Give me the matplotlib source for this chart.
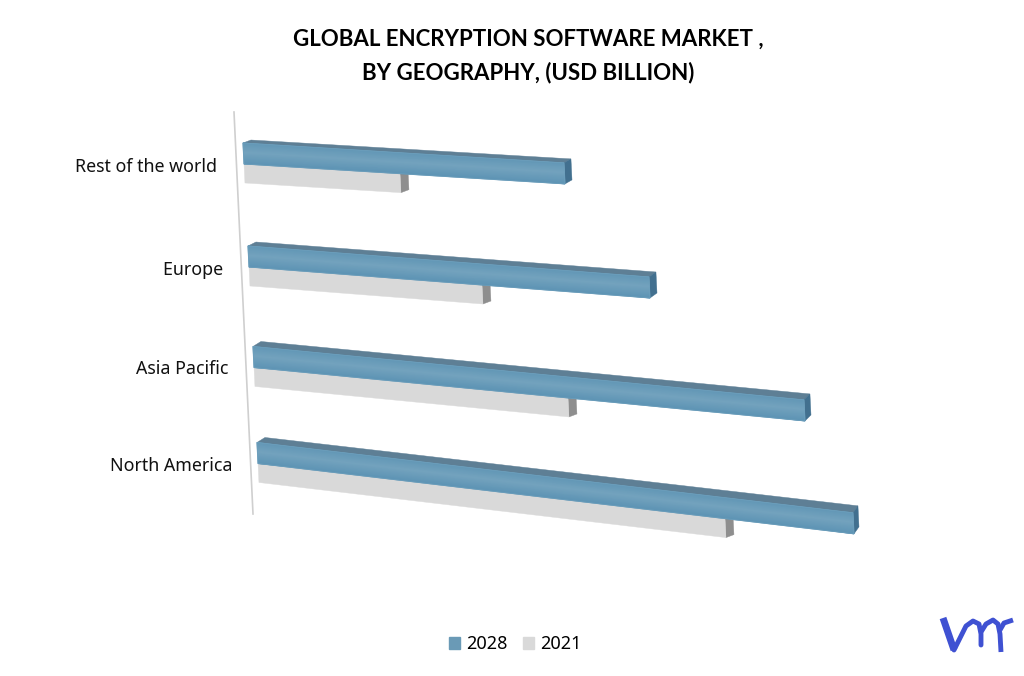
import numpy as np
import matplotlib
matplotlib.use("Agg")
import matplotlib.pyplot as plt
import matplotlib.transforms as mtrans
from matplotlib.colors import LinearSegmentedColormap
from matplotlib.patches import Patch

categories = ["North America", "Asia Pacific", "Europe ", "Rest of the world"]
values_2028 = [5.96, 5.51, 4.01, 3.21]
values_2021 = [4.67, 3.14, 2.33, 1.56]
series_names = ["2028", "2021"]
title_lines = "GLOBAL ENCRYPTION SOFTWARE MARKET ,\nBY GEOGRAPHY, (USD BILLION)"

# where each row sits in the picture, the chart is a fake 3d with perspective
row_left = np.array([258.0, 254.0, 249.0, 244.0])
row_top = np.array([463.5, 367.5, 267.0, 164.0])
row_slope = np.array([0.118, 0.097, 0.0773, 0.062])
depth_left = [-5, -5, -4, -3]
depth_right = [-7, -6, -5, -4]
depth_dx = [5, 6, 7, 7]
label_right = [232, 228, 228, 217]
label_y = [466, 369, 270, 167]
px_per_value = 100.0
px_per_row = 100.0
h_blue, h_gray = 0.21, 0.19


def project(v, y):
    v = np.asarray(v, dtype=float)
    y = np.asarray(y, dtype=float)
    row = np.clip(np.round(y).astype(int), 0, 3)
    off = (y - row) * px_per_row
    dx = v * px_per_value
    px = row_left[row] + dx - 0.05 * off
    py = row_top[row] + row_slope[row] * dx - off
    return px, py


class Perspective(mtrans.Transform):
    input_dims = 2
    output_dims = 2
    is_separable = False
    has_inverse = False

    def transform_non_affine(self, values):
        px, py = project(values[:, 0], values[:, 1])
        return np.column_stack([px, py])


def face(ax, pts, color):
    xs = [p[0] for p in pts]
    ys = [p[1] for p in pts]
    ax.fill(xs, ys, color=color, lw=0.3, zorder=3)


def top_and_side(ax, v, y0, y1, top_col, side_col, ddx, ddy, ddy_left):
    (xa, ya), (xb, yb) = project(0, y1), project(v, y1)
    xc, yc = project(v, y0)
    face(ax, [(xa, ya), (xb, yb), (xb + ddx, yb + ddy), (xa + 8, ya + ddy_left)], top_col)
    face(ax, [(xb, yb), (xc, yc), (xc + ddx, yc + ddy), (xb + ddx, yb + ddy)], side_col)


fig = plt.figure(figsize=(10.24, 6.76), dpi=100)
ax = fig.add_axes([0, 0, 1, 1])
ax.set_xlim(0, 1024)
ax.set_ylim(676, 0)
ax.autoscale(False)
ax.axis("off")

skew = Perspective() + ax.transData

ax.plot([234, 253], [112, 514], color="#cfcfcf", lw=1.2, zorder=1)

blue_map = LinearSegmentedColormap.from_list("b", ["#5c93b4", "#74a3be", "#6297b6"])
rows = np.arange(len(categories))

for r in rows:
    v1 = values_2021[r]
    top_and_side(ax, v1, r - h_gray, r, "#c4c4c4", "#8e8e8e", 8, -3, -3)
    b = ax.barh(r - h_gray / 2, v1, height=h_gray, color="#d9d9d9", lw=0.3, edgecolor="#dcdcdc", zorder=4)
    b[0].set_transform(skew)

    v2 = values_2028[r]
    top_and_side(ax, v2, r, r + h_blue, "#5e7f95", "#42708f", depth_dx[r], depth_right[r], depth_left[r])
    ys = np.array([0, 0.55, 1]) * h_blue + r
    mesh = ax.pcolormesh([0, v2], ys, np.array([[0, 0], [0.5, 0.5], [1, 1]]), cmap=blue_map,
                         shading="gouraud", transform=skew, zorder=5)
    b = ax.barh(r + h_blue / 2, v2, height=h_blue, facecolor="none", edgecolor="#6d9fbc", lw=0.5, zorder=6)
    b[0].set_transform(skew)

for r, name in enumerate(categories):
    ax.text(label_right[r], label_y[r], name, ha="right", va="center", fontsize=12.8,
            family="Noto Sans", color="#111111")

ax.text(528, 56, title_lines, ha="center", va="center", fontsize=16, family="Lato",
        fontweight="bold", color="black", linespacing=1.68)

handles = [Patch(color="#6a9ab6"), Patch(color="#d9d9d9")]
ax.legend(handles, series_names, ncol=2, frameon=False, loc="center", bbox_to_anchor=(0.503, 0.047),
          prop={"family": "Noto Sans", "size": 13}, handlelength=0.62, handleheight=0.62,
          handletextpad=0.33, columnspacing=0.83)

# logo
logo_blue = "#3f51d2"
ax.plot([943, 954], [618, 650], color=logo_blue, lw=5, solid_capstyle="butt")
ax.plot([954, 966, 973, 979, 981, 981], [650, 626, 621, 624, 634, 645], color=logo_blue, lw=3.5,
        solid_capstyle="round", solid_joinstyle="round")
ax.plot([981, 986, 993, 998, 1000, 1001], [632, 624, 620, 624, 634, 652], color=logo_blue, lw=3.5,
        solid_capstyle="butt", solid_joinstyle="round")
ax.plot([1000, 1004, 1013], [630, 623, 620], color=logo_blue, lw=3.5,
        solid_capstyle="butt", solid_joinstyle="round")

fig.savefig("out.png", dpi=100)
